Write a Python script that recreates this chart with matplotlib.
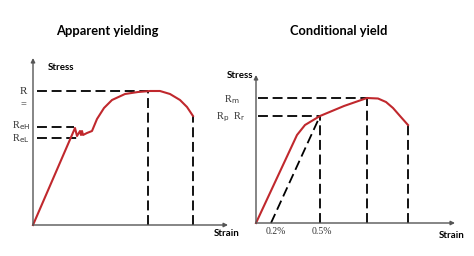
import matplotlib
matplotlib.use("Agg")
import matplotlib.pyplot as plt

# ---- data (arbitrary strain / stress units) ----
left_strain = [0, 42, 44, 47, 48, 49, 50, 54, 59, 64, 71, 79, 92, 105, 117, 127, 137, 147, 154, 160]
left_stress = [0, 97, 89, 94, 90, 94, 90, 92, 94, 106, 117, 125, 131, 133, 134, 134, 131, 125, 118, 109]
left_R, left_ReH, left_ReL = 134, 98, 87
left_x_Rm, left_x_break = 115, 160
left_break_stress = 109

right_strain = [0, 41, 49, 64, 88, 111, 122, 130, 137, 144, 152]
right_stress = [0, 88, 98, 107, 117, 125, 124.5, 121, 115, 107, 98]
right_Rm, right_Rp = 125, 107
right_x_offset, right_x_Rp, right_x_Rm, right_x_break = 15, 64, 111, 152
right_break_stress = 98
right_tick_labels = ["0.2%", "0.5%"]

RED = "#c0282d"
W, H = 474, 256

fig = plt.figure(figsize=(4.74, 2.56), dpi=100)
fig.patch.set_facecolor("white")

def make_axes(x0, x1, y_bottom, y_top):
    ax = fig.add_axes([x0 / W, (H - y_bottom) / H, (x1 - x0) / W, (y_bottom - y_top) / H])
    ax.set_xlim(0, x1 - x0)
    ax.set_ylim(0, y_bottom - y_top)
    ax.axis("off")
    xm, ym = x1 - x0, y_bottom - y_top
    for tgt in [(xm, 0), (0, ym)]:
        ax.annotate("", xy=tgt, xytext=(0, 0),
                    arrowprops=dict(arrowstyle="-|>", color="#555555", lw=1.0,
                                    mutation_scale=6, shrinkA=0, shrinkB=0))
    return ax

dash = dict(color="black", lw=1.3, dashes=(5.5, 2.6), clip_on=False)
serif = dict(family="Liberation Serif", color="#333333", clip_on=False)
bold = dict(family="Lato", weight="bold", color="black", clip_on=False)

# ---- left panel ----
ax1 = make_axes(33, 228, 225, 58)
ax1.plot([4, left_x_Rm], [left_R, left_R], **dash)
ax1.plot([left_x_Rm, left_x_Rm], [0, left_R], **dash)
ax1.plot([left_x_break, left_x_break], [0, left_break_stress], **dash)
ax1.plot([4, 41], [left_ReH, left_ReH], **dash)
ax1.plot([4, 46], [left_ReL, left_ReL], **dash)
ax1.plot(left_strain, left_stress, color=RED, lw=1.5, solid_joinstyle="round", clip_on=False)
ax1.text(-10, 133, "R", ha="center", va="center", fontsize=8, **serif)
ax1.text(-10, 121, "=", ha="center", va="center", fontsize=7.5, **serif)
ax1.text(-12, 99, r"R$_{\mathrm{eH}}$", ha="center", va="center", fontsize=7.5, **serif)
ax1.text(-12, 86, r"R$_{\mathrm{eL}}$", ha="center", va="center", fontsize=7.5, **serif)
ax1.text(15, 157, "Stress", ha="left", va="center", fontsize=7, **bold)
ax1.text(194, -8, "Strain", ha="center", va="center", fontsize=7, **bold)

# ---- right panel ----
ax2 = make_axes(256, 455, 223, 75)
ax2.plot([2, right_x_Rm], [right_Rm, right_Rm], **dash)
ax2.plot([2, right_x_Rp], [right_Rp, right_Rp], **dash)
ax2.plot([right_x_Rp, right_x_Rp], [0, right_Rp], **dash)
ax2.plot([right_x_Rm, right_x_Rm], [0, right_Rm], **dash)
ax2.plot([right_x_break, right_x_break], [0, right_break_stress], **dash)
ax2.plot([right_x_offset, right_x_Rp], [0, right_Rp], **dash)
ax2.plot(right_strain, right_stress, color=RED, lw=1.5, solid_joinstyle="round", clip_on=False)
ax2.text(-24, 123, r"R$_{\mathrm{m}}$", ha="center", va="center", fontsize=7.5, **serif)
ax2.text(-25, 106, r"R$_{\mathrm{p}}$  R$_{\mathrm{r}}$", ha="center", va="center", fontsize=7.5, **serif)
ax2.text(-3, 148, "Stress", ha="right", va="center", fontsize=7, **bold)
ax2.text(196, -12, "Strain", ha="center", va="center", fontsize=7, **bold)
for xv, lab in zip([right_x_offset + 5, right_x_Rp + 2], right_tick_labels):
    ax2.text(xv, -9, lab, ha="center", va="center", fontsize=7, **serif)

fig.text(107 / W, 1 - 31 / H, "Apparent yielding", ha="center", va="center", fontsize=9.3, family="Lato", weight="bold")
fig.text(339 / W, 1 - 31 / H, "Conditional yield", ha="center", va="center", fontsize=9.3, family="Lato", weight="bold")

fig.savefig("out.png", dpi=100, facecolor="white")
